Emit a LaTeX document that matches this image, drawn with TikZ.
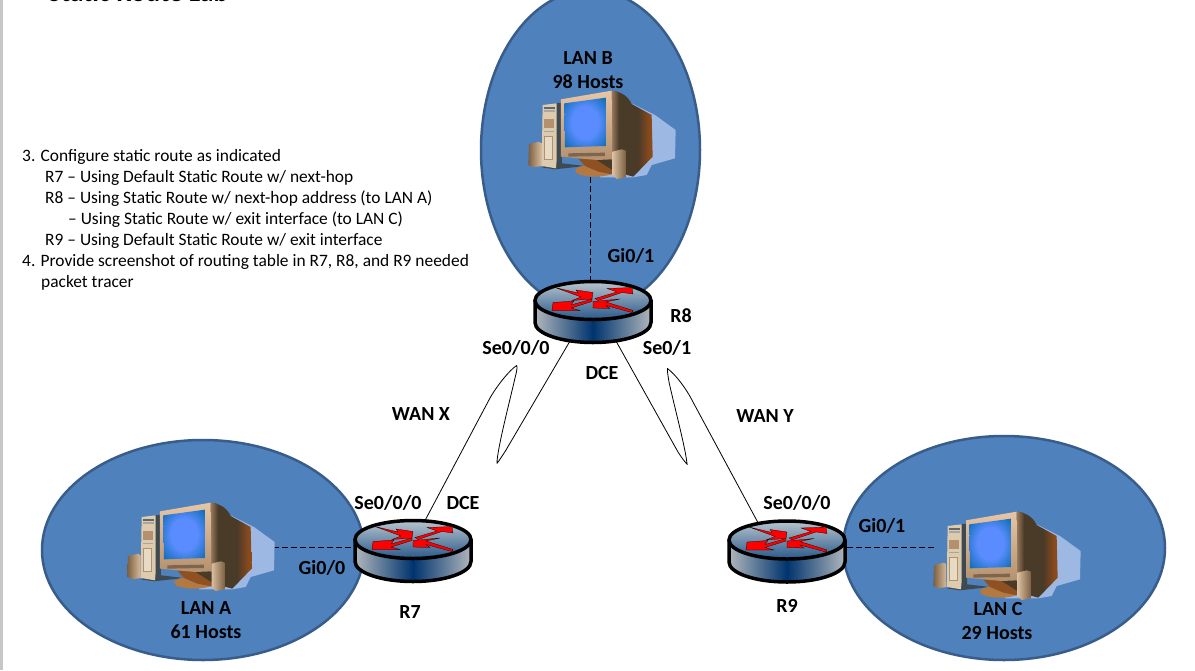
\documentclass[tikz,border=0pt]{standalone}
\usepackage{fontspec}
\setmainfont{Carlito}
\usetikzlibrary{shapes.geometric}
\definecolor{lanfill}{HTML}{4F81BD}
\definecolor{lanline}{HTML}{385D8A}
\definecolor{pcshadow}{HTML}{9DB8E3}
\definecolor{tan1}{HTML}{E6C6A6}
\definecolor{tan2}{HTML}{B4916E}
\definecolor{brownA}{HTML}{4A3A28}
\definecolor{brownB}{HTML}{8A4A1C}
\definecolor{standc}{HTML}{B27A42}
\definecolor{screenA}{HTML}{5A8CFF}
\definecolor{screenB}{HTML}{0068A6}
\definecolor{towerc}{HTML}{DCCBAE}
\definecolor{towerside}{HTML}{3E4A52}
\definecolor{spkA}{HTML}{7A5F42}
\definecolor{spkB}{HTML}{D8BE9E}
\definecolor{rgrey}{HTML}{B0B6BC}
\definecolor{rdark}{HTML}{00346E}
\definecolor{rtop}{HTML}{B8C4CC}
\definecolor{rbot}{HTML}{2A5A8C}
\pgfdeclareradialshading{screenglow}{\pgfpoint{0bp}{0bp}}{color(0bp)=(screenA); color(16bp)=(screenA); color(38bp)=(screenB); color(50bp)=(screenB)}
\pgfdeclarehorizontalshading{monrear}{100bp}{color(0bp)=(brownA); color(25bp)=(brownA); color(62bp)=(brownA); color(72bp)=(brownB); color(100bp)=(brownB)}
\tikzset{
  x=1pt,y=-1pt,
  lan/.style={fill=lanfill,draw=lanline,line width=2.5pt,ellipse,inner sep=0pt},
  anchorbox/.style={inner sep=0pt,outer sep=0pt,draw=none},
  rnode/.style={anchorbox,ellipse,minimum width=120pt,minimum height=63pt},
  lab/.style={font=\fontsize{20}{23}\selectfont\bfseries,inner sep=0pt,text=black},
  txt/.style={font=\fontsize{17.4}{20}\selectfont,inner sep=0pt,anchor=base west,text=black},
  lnk/.style={draw=black,line width=0.8pt,line join=round},
  lanlink/.style={draw=black,line width=0.9pt,dash pattern=on 6pt off 3pt},
  rarrow/.style={fill=red,draw=black,line width=0.25pt,line join=miter},
}
\newcommand\routerart[1]{%
\begin{scope}[shift={(#1)}]
  \path[left color=rgrey,right color=rgrey,middle color=rdark]
     (-58,-11) -- (-58,11) arc[start angle=180,end angle=0,x radius=58,y radius=20] -- (58,-11) -- cycle;
  \draw[line width=3.5pt,line join=round]
     (-58,-11) -- (-58,11) arc[start angle=180,end angle=0,x radius=58,y radius=20] -- (58,-11);
  \draw[line width=3.5pt,top color=rtop,bottom color=rbot] (0,-11) ellipse [x radius=58,y radius=19];
  \path[rarrow] (-38,-24) -- (-15,-18.5) -- (-17,-21.5) -- (0,-19) -- (-1,-12.5) -- (-21,-11) -- (-12,-14.5) -- cycle;
  \path[rarrow] (2,-13) -- (24,-19.5) -- (14,-23) -- (39,-24) -- (40,-17.5) -- (29,-19) -- (5,-11) -- cycle;
  \path[rarrow] (-1,-12.5) -- (-22,-6.5) -- (-19,-10.5) -- (-40,-9) -- (-41,-1) -- (-13,-1) -- (-22,-3.5) -- (-1,-10) -- cycle;
  \path[rarrow] (40,-1) -- (13,-9.5) -- (27,-12.5) -- (0,-10) -- (0,-3.5) -- (17,-3) -- (13,-6) -- (39,1) -- cycle;
\end{scope}}
\newcommand\pcart[1]{%
\begin{scope}[shift={(#1)},x=0.3333pt,y=-0.3333pt]
  \fill[pcshadow] (395,130) -- (465,165) -- (527,210) -- (525,295) -- (455,315) -- (440,345) -- (400,352) -- (300,352) -- cycle;
  \fill[towerside] (168,130) -- (186,128) -- (186,310) -- (255,318) -- (165,328) -- (125,322) -- (168,300) -- cycle;
  \fill[towerc] (128,135) -- (170,130) -- (170,300) -- (168,325) -- (125,318) -- cycle;
  \fill[tan2] (133,178) rectangle (163,205);
  \fill[black!60] (133,140) rectangle (165,146);
  \fill[black!35] (133,212) rectangle (163,216);
  \fill[black!35] (133,150) rectangle (165,155);
  \fill[tan2] (131,228) rectangle (160,300);
  \fill[towerc!70] (135,232) rectangle (155,296);
  \fill[standc] (285,332) ellipse [x radius=60,y radius=18];
  \fill[brownB!85!standc] (235,296) -- (335,296) -- (345,345) -- (295,335) -- (255,318) -- cycle;
  \path[shading=monrear] (335,92) .. controls (365,95) and (385,110) .. (395,132) -- (455,165) -- (458,290) -- (400,350) -- (345,335) -- (290,300) -- cycle;
  \path[left color=tan2!85!black,right color=brownA] (335,92) -- (357,96) -- (357,292) -- (335,300) -- cycle;
  \path[top color=tan1,bottom color=tan2] (183,118) -- (335,92) -- (337,298) -- (290,300) -- (183,290) -- cycle;
  \fill[tan2!70!black] (205,280) -- (315,278) -- (315,288) -- (205,290) -- cycle;
  \path[shading=screenglow] (193,130) -- (318,113) -- (318,258) -- (195,262) -- cycle;
  \path[left color=spkA,right color=spkB] (87,252) -- (117,245) -- (125,250) -- (125,318) -- (100,322) -- (85,315) -- cycle;
  \path[left color=spkB,right color=spkA] (338,275) -- (365,268) -- (378,272) -- (378,352) -- (350,357) -- (338,345) -- cycle;
\end{scope}}
\begin{document}
\begin{tikzpicture}
\clip (0,0) rectangle (1195,670);
\fill[white] (0,0) rectangle (1195,670);
\fill[black!22] (0,0) rectangle (2.5,670);
\node[lab,font=\fontsize{27}{30}\selectfont\bfseries,anchor=base west] (title) at (48,1) {Static Route Lab};
% LAN clouds
\node[lan,minimum width=219pt,minimum height=320pt] (lanb) at (590.5,150) {};
\node[lan,minimum width=322pt,minimum height=220pt] (lana) at (203,550) {};
\node[lan,minimum width=322pt,minimum height=224pt] (lanc) at (1004,548) {};
% anchor nodes
\node[rnode] (r8) at (593,311.5) {};
\node[rnode] (r7) at (413,550.5) {};
\node[rnode] (r9) at (787,551) {};
\node[anchorbox,minimum width=170pt,minimum height=84pt] (pcb) at (590,135) {};
\node[anchorbox,minimum width=146pt,minimum height=84pt] (pca) at (200,547) {};
\node[anchorbox,minimum width=146pt,minimum height=84pt] (pcc) at (1007,547) {};
% connectors
\draw[lanlink] (pcb.south) -- (pcb.south |- r8.north);
\draw[lanlink] (pca.east) -- (pca.east -| r7.west);
\draw[lanlink] (pcc.west) -- (pcc.west -| r9.east);
\coordinate (xa) at (497,463);
\coordinate (xb) at (516,366);
\coordinate (ya) at (687,464);
\coordinate (yb) at (668,369);
\draw[lnk] (r8.232) -- (506,450)
   .. controls (499,461) and (496,465) .. (xa) .. controls (497,450) and (510,400) .. (515,378)
   .. controls (518,367) and (517,364) .. (xb) .. controls (510,370) and (498,384) .. (490,398) -- (r7.68);
\draw[lnk] (r8.308) -- (678,452)
   .. controls (685,463) and (689,466) .. (ya) .. controls (686,450) and (674,405) .. (669,382)
   .. controls (667,370) and (667,367) .. (yb) .. controls (675,374) and (686,388) .. (693,402) -- (r9.136);
% art
\pcart{500,60}
\pcart{99,472}
\pcart{905,481}
\routerart{593,311.5}
\routerart{413,550.5}
\routerart{787,551}
% labels
\node[lab] (lb1) at (588,58) {LAN B};
\node[lab] (lb2) at (588,82) {98 Hosts};
\node[lab] (lb3) at (631,256) {Gi0/1};
\node[lab] (lb4) at (681,316) {R8};
\node[lab] (lb5) at (516,348) {Se0/0/0};
\node[lab] (lb6) at (667,348) {Se0/1};
\node[lab] (lb7) at (602,373) {DCE};
\node[lab] (lb8) at (421,414) {WAN X};
\node[lab] (lb9) at (765,416) {WAN Y};
\node[lab] (la1) at (388,503) {Se0/0/0};
\node[lab] (la2) at (463,503) {DCE};
\node[lab] (la3) at (322,568) {Gi0/0};
\node[lab] (la4) at (206,608) {LAN A};
\node[lab] (la5) at (206,632) {61 Hosts};
\node[lab] (la6) at (410,612) {R7};
\node[lab] (lc1) at (797,503) {Se0/0/0};
\node[lab] (lc2) at (882,526) {Gi0/1};
\node[lab] (lc3) at (787,606) {R9};
\node[lab] (lc4) at (998,609) {LAN C};
\node[lab] (lc5) at (997,633) {29 Hosts};
% instructions
\node[txt] (t1) at (22,161) {3. Configure static route as indicated};
\node[txt] (t2) at (45,182) {R7 – Using Default Static Route w/ next-hop};
\node[txt] (t3) at (45,203) {R8 – Using Static Route w/ next-hop address (to LAN A)};
\node[txt] (t4) at (68,224) {– Using Static Route w/ exit interface (to LAN C)};
\node[txt] (t5) at (45,245) {R9 – Using Default Static Route w/ exit interface};
\node[txt] (t6) at (22,266) {4. Provide screenshot of routing table in R7, R8, and R9 needed};
\node[txt] (t7) at (41,287) {packet tracer};
\end{tikzpicture}
\end{document}
